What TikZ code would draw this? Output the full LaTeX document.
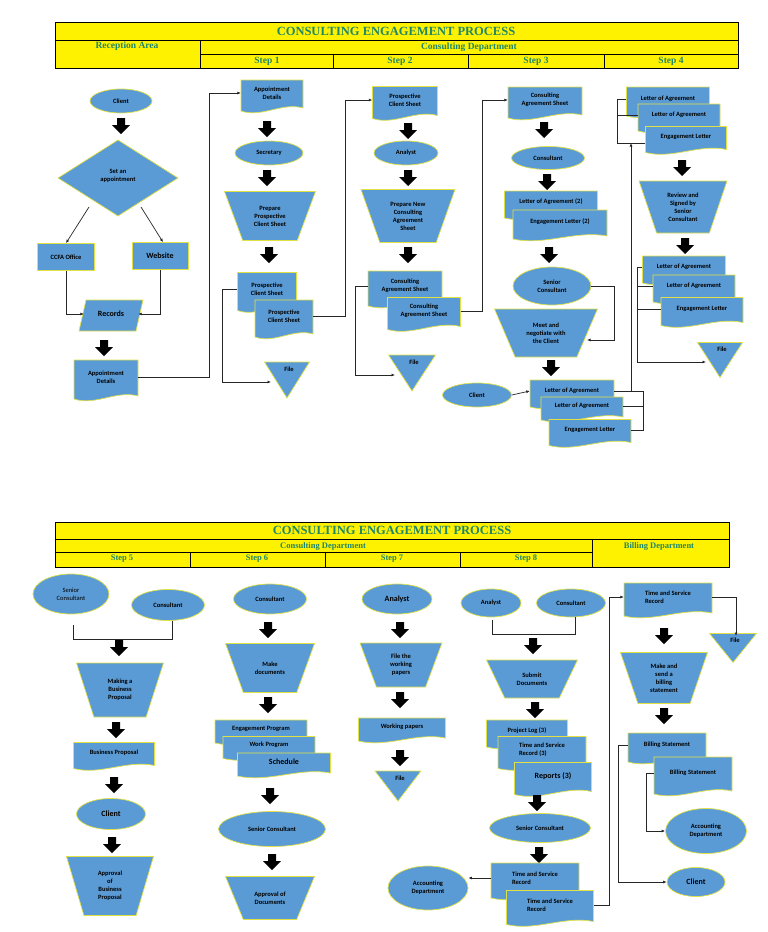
\documentclass[tikz,border=0pt]{standalone}
\usepackage{fontspec}
\setmainfont{Carlito}
\newfontfamily\hdr{Liberation Serif}
\usetikzlibrary{shapes.geometric,arrows.meta,calc}
\definecolor{bl}{RGB}{91,155,213}
\definecolor{yb}{RGB}{225,225,70}
\definecolor{ht}{RGB}{30,135,105}
\tikzset{
 shp/.style={fill=bl,draw=yb,line width=0.7pt},
 txt/.style={font=\fontsize{6.5}{8}\selectfont\bfseries,align=center,inner sep=0pt},
 big/.style={font=\fontsize{8}{9.5}\selectfont\bfseries},
 ell/.style={shp,ellipse,txt},
 con/.style={draw=black!85,line width=0.7pt},
 arr/.style={con,-{Latex[length=3.5pt,width=3pt]}},
 hcell/.style={fill=yellow,draw=black,line width=0.8pt},
 htxt/.style={font=\hdr\bfseries\fontsize{9.5}{10}\selectfont,text=ht},
 ttxt/.style={font=\hdr\bfseries\fontsize{12.5}{13}\selectfont,text=ht}
}
\newcommand\docn[7][]{%
 \filldraw[shp] ({#3-#5/2},{#4-#6/2}) -- ({#3+#5/2},{#4-#6/2}) -- ({#3+#5/2},{#4+#6/2-4})
  .. controls ({#3+#5/6},{#4+#6/2-10}) and ({#3-#5/6},{#4+#6/2+6}) .. ({#3-#5/2},{#4+#6/2-1}) -- cycle;
 \node[txt,#1,minimum width=#5pt,minimum height={#6pt-6pt}] (#2) at (#3,{#4-3}) {#7};}
\newcommand\trp[6]{%
 \filldraw[shp] ({#2-#4/2},{#3-#5/2}) -- ({#2+#4/2},{#3-#5/2}) -- ({#2+0.3*#4},{#3+#5/2}) -- ({#2-0.3*#4},{#3+#5/2}) -- cycle;
 \node[txt] (#1) at (#2,#3) {#6};}
\newcommand\tri[5]{%
 \filldraw[shp] ({#2-#4/2},{#3-#5/2}) -- ({#2+#4/2},{#3-#5/2}) -- (#2,{#3+#5/2}) -- cycle;
 \node[txt] (#1) at ({#2+2},{#3-#5/2+7}) {File};}
\newcommand\barr[2]{%
 \fill[black] ({#1-4},{#2-8}) -- ({#1+4},{#2-8}) -- ({#1+4},{#2-1}) -- ({#1+9},{#2-1}) -- (#1,{#2+8}) -- ({#1-9},{#2-1}) -- ({#1-4},{#2-1}) -- cycle;}
\begin{document}
\begin{tikzpicture}[x=1pt,y=-1pt]
\useasboundingbox (0,0) rectangle (768,932);
% ---------- top header
\draw[hcell] (55,22) rectangle (738,68);
\draw[hcell] (55,40) -- (738,40) (200,40) -- (200,68) (200,54) -- (738,54)
 (333,54) -- (333,68) (468,54) -- (468,68) (604,54) -- (604,68);
\node[ttxt] (t1) at (396,31) {CONSULTING ENGAGEMENT PROCESS};
\node[htxt] (ra) at (127,46) {Reception Area};
\node[htxt] (cd1) at (469,47) {Consulting Department};
\node[htxt] (s1) at (267,61) {Step 1};
\node[htxt] (s2) at (400,61) {Step 2};
\node[htxt] (s3) at (536,61) {Step 3};
\node[htxt] (s4) at (671,61) {Step 4};
% ---------- reception
\node[ell,minimum width=62pt,minimum height=24pt] (cl0) at (121,101) {Client};
\barr{121}{126}
\filldraw[shp] (118,140) -- (178,178) -- (118,216) -- (58,178) -- cycle;
\node[txt] (dia) at (118,176) {Set an\\appointment};
\coordinate (dsw) at (89,207); \coordinate (dse) at (141,207);
\node[shp,txt,minimum width=57pt,minimum height=27pt] (ccfa) at (66,257) {CCFA Office};
\node[shp,txt,big,minimum width=56pt,minimum height=27pt] (web) at (160,256) {Website};
\draw[arr] (dsw) -- (ccfa.north);
\draw[arr] (dse) -- ($(web.north)+(3,0)$);
\filldraw[shp] (86,300) -- (143,300) -- (136,331) -- (79,331) -- cycle;
\node[txt,big,minimum width=54pt,minimum height=24pt] (rec) at (111,314) {Records};
\draw[arr] (ccfa.south) |- (rec.west);
\draw[arr] (web.south) |- (rec.east);
\barr{104}{348}
\docn{ad0}{106}{380}{64}{40}{Appointment\\Details}
% ---------- step 1
\docn{ad1}{272}{96}{62}{32}{Appointment\\Details}
\draw[arr] (ad0.east) -- ++(71,0) |- (ad1.west);
\barr{267}{129}
\node[ell,minimum width=68pt,minimum height=24pt] (sec) at (269,153) {Secretary};
\barr{267}{178}
\trp{pp}{270}{216}{91}{49}{Prepare\\Prospective\\Client Sheet}
\barr{269}{255}
\docn{pcs1}{267}{292}{59}{39}{Prospective\\Client Sheet}
\docn{pcs2}{284}{319}{58}{38}{Prospective\\Client Sheet}
\tri{f1}{287}{380}{45}{36}
\coordinate (f1in) at (271,382);
\draw[arr] (pcs1.west) -- ++(-15,0) |- (f1in);
% ---------- step 2
\docn{pcs3}{405}{103}{65}{33}{Prospective\\Client Sheet}
\draw[arr] (pcs2.east) -- ++(32,0) |- (pcs3.west);
\barr{408}{131}
\node[ell,minimum width=64pt,minimum height=24pt] (an2) at (406,153) {Analyst};
\barr{408}{178}
\trp{pn}{408}{216}{94}{53}{Prepare New\\Consulting\\Agreement\\Sheet}
\barr{408}{255}
\docn{cas1}{405}{289}{74}{36}{Consulting\\Agreement Sheet}
\docn{cas2}{424}{314}{73}{33}{Consulting\\Agreement Sheet}
\tri{f2}{412}{373}{47}{36}
\coordinate (f2in) at (395,375);
\draw[arr] (cas1.west) -- ++(-12,0) |- (f2in);
% ---------- step 3
\docn{cas3}{545}{103}{74}{32}{Consulting\\Agreement Sheet}
\draw[arr] (cas2.east) -- ++(22,0) |- (cas3.west);
\barr{544}{130}
\node[ell,minimum width=73pt,minimum height=23pt] (cons3) at (548,158) {Consultant};
\barr{547}{182}
\docn{loa2}{551}{205}{93}{28}{Letter of Agreement (2)}
\docn{el2}{560}{225}{94}{30}{Engagement Letter (2)}
\barr{549}{255}
\node[ell,minimum width=78pt,minimum height=38pt] (sc3) at (552,286) {Senior\\Consultant};
\trp{mn}{546}{333}{103}{48}{Meet and\\negotiate with\\the Client}
\coordinate (mnin) at (587,340);
\draw[arr] (sc3.east) -- ++(23,0) |- (mnin);
\barr{551}{368}
\node[ell,minimum width=69pt,minimum height=24pt] (cl3) at (477,395) {Client};
\docn{loa3a}{572}{394}{84}{28}{Letter of Agreement}
\docn{loa3b}{582}{409}{82}{24}{Letter of Agreement}
\docn{el3}{590}{433}{82}{27}{Engagement Letter}
\draw[arr] (cl3.east) -- (loa3a.west);
\coordinate (b3) at (643,0);
\draw[con] (loa3a.east) -- (b3 |- loa3a.east) -- (b3 |- el3.east) -- (el3.east);
\draw[con] (loa3b.east) -- (b3 |- loa3b.east);
% ---------- step 4
\docn{loa4a}{668}{102}{83}{30}{Letter of Agreement}
\docn{loa4b}{679}{118}{82}{28}{Letter of Agreement}
\docn{el4}{686}{140}{81}{27}{Engagement Letter}
\coordinate (b4) at (617,0);
\coordinate (up3) at (631,0);
\draw[con] (loa4a.west) -- (b4 |- loa4a.west) -- (b4 |- 0,143) -- (el4.west |- 0,143);
\draw[con] (loa4b.west) -- (b4 |- loa4b.west);
\draw[arr] (up3 |- loa3a.east) -- (up3 |- 0,143);
\barr{682}{168}
\trp{rs}{683}{207}{88}{52}{Review and\\Signed by\\Senior\\Consultant}
\barr{685}{246}
\docn{loa5a}{684}{270}{83}{28}{Letter of Agreement}
\docn{loa5b}{694}{289}{82}{28}{Letter of Agreement}
\docn{el5}{702}{312}{82}{29}{Engagement Letter}
\tri{f4}{720}{360}{45}{35}
\coordinate (f4in) at (706,362);
\coordinate (b5) at (637,0);
\draw[con] (loa5a.west) -- (b5 |- loa5a.west) -- (b5 |- f4in);
\draw[con] (loa5b.west) -- (b5 |- loa5b.west);
\draw[con] (el5.west) -- (b5 |- el5.west);
\draw[arr] (b5 |- f4in) -- (f4in);
% ---------- bottom header
\draw[hcell] (55,522) rectangle (729,567);
\draw[hcell] (55,539) -- (729,539) (55,552) -- (592,552) (592,539) -- (592,567)
 (190,552) -- (190,567) (325,552) -- (325,567) (460,552) -- (460,567);
\node[ttxt] (t2) at (392,530) {CONSULTING ENGAGEMENT PROCESS};
\node[htxt,font=\hdr\bfseries\fontsize{8.5}{9}\selectfont] (cd2) at (323,546) {Consulting Department};
\node[htxt,font=\hdr\bfseries\fontsize{8.5}{9}\selectfont] (bd) at (659,546) {Billing Department};
\node[htxt,font=\hdr\bfseries\fontsize{8.5}{9}\selectfont] (s5) at (122,559) {Step 5};
\node[htxt,font=\hdr\bfseries\fontsize{8.5}{9}\selectfont] (s6) at (257,559) {Step 6};
\node[htxt,font=\hdr\bfseries\fontsize{8.5}{9}\selectfont] (s7) at (392,559) {Step 7};
\node[htxt,font=\hdr\bfseries\fontsize{8.5}{9}\selectfont] (s8) at (526,559) {Step 8};
% ---------- step 5
\node[ell,minimum width=76pt,minimum height=40pt,font=\fontsize{6.5}{8}\selectfont] (sc5) at (71,594) {Senior\\Consultant};
\node[ell,minimum width=73pt,minimum height=31pt] (con5) at (168,605) {Consultant};
\draw[con] ($(sc5.south)+(2,11)$) |- ($(con5.south)+(4,18)$) -- ($(con5.south)+(4,0)$);
\barr{119}{648}
\trp{mb}{120}{690}{87}{54}{Making a\\Business\\Proposal}
\barr{116}{730}
\docn{bp}{114}{756}{81}{27}{Business Proposal}
\barr{114}{785}
\node[ell,big,minimum width=69pt,minimum height=31pt] (cl5) at (111,814) {Client};
\barr{112}{845}
\trp{ab}{110}{886}{87}{59}{Approval\\of\\Business\\Proposal}
% ---------- step 6
\node[ell,minimum width=73pt,minimum height=30pt] (con6) at (270,599) {Consultant};
\barr{268}{630}
\trp{md}{270}{668}{89}{49}{Make\\documents}
\barr{268}{705}
\docn{ep}{261}{732}{92}{24}{Engagement Program}
\docn{wp}{269}{748}{92}{23}{Work Program}
\docn[big]{sch}{284}{765}{93}{24}{Schedule}
\barr{270}{796}
\node[ell,minimum width=107pt,minimum height=35pt] (sc6) at (272,829) {Senior Consultant};
\barr{272}{862}
\trp{ad}{270}{898}{89}{43}{Approval of\\Documents}
% ---------- step 7
\node[ell,big,minimum width=70pt,minimum height=30pt] (an7) at (397,599) {Analyst};
\barr{400}{630}
\trp{fw}{401}{665}{82}{44}{File the\\working\\papers}
\barr{400}{700}
\docn{wkp}{402}{730}{87}{24}{Working papers}
\barr{400}{758}
\tri{f7}{398}{786}{46}{30}
% ---------- step 8
\node[ell,minimum width=60pt,minimum height=28pt] (an8) at (491,603) {Analyst};
\node[ell,minimum width=69pt,minimum height=28pt] (co8) at (571,603) {Consultant};
\draw[con] ($(an8.south)+(1,3)$) |- ($(co8.south)+(4,17)$) -- ($(co8.south)+(4,0)$);
\barr{533}{646}
\trp{sd}{532}{679}{91}{38}{Submit\\Documents}
\barr{535}{710}
\docn{pl}{527}{734}{81}{28}{Project Log (3)}
\docn[align=left]{tsr3}{542}{753}{88}{33}{Time and Service\\Record (3)}
\docn[big]{rp}{553}{779}{77}{33}{Reports (3)}
\barr{537}{803}
\node[ell,minimum width=101pt,minimum height=29pt] (sc8) at (540,828) {Senior Consultant};
\barr{539}{855}
\docn[align=left]{tsr8a}{535}{881}{88}{36}{Time and Service\\Record}
\docn[align=left]{tsr8b}{550}{908}{87}{35}{Time and Service\\Record}
\node[ell,minimum width=80pt,minimum height=44pt] (acc8) at (428,888) {Accounting\\Department};
\draw[arr] (tsr8a.west) -- (tsr8a.west -| acc8.east);
% ---------- billing
\docn[align=left]{tsrB}{668}{600}{88}{34}{Time and Service\\Record}
\draw[arr] (tsr8b.east) -- ++(16,0) |- (tsrB.west);
\tri{fB}{733}{648}{47}{29}
\coordinate (fBin) at (736,636);
\draw[arr] (tsrB.east) -| (fBin);
\barr{664}{636}
\trp{mk}{664}{678}{87}{51}{Make and\\send a\\billing\\statement}
\barr{664}{716}
\docn{bs1}{667}{748}{78}{30}{Billing Statement}
\docn{bs2}{693}{776}{78}{38}{Billing Statement}
\node[ell,minimum width=81pt,minimum height=45pt] (accB) at (706,831) {Accounting\\Department};
\node[ell,big,minimum width=58pt,minimum height=29pt] (clB) at (696,882) {Client};
\draw[arr] (bs1.west) -- ++(-9,0) |- (clB.west);
\draw[arr] (bs2.west) -- ++(-7,0) |- (accB.west);
\end{tikzpicture}
\end{document}
